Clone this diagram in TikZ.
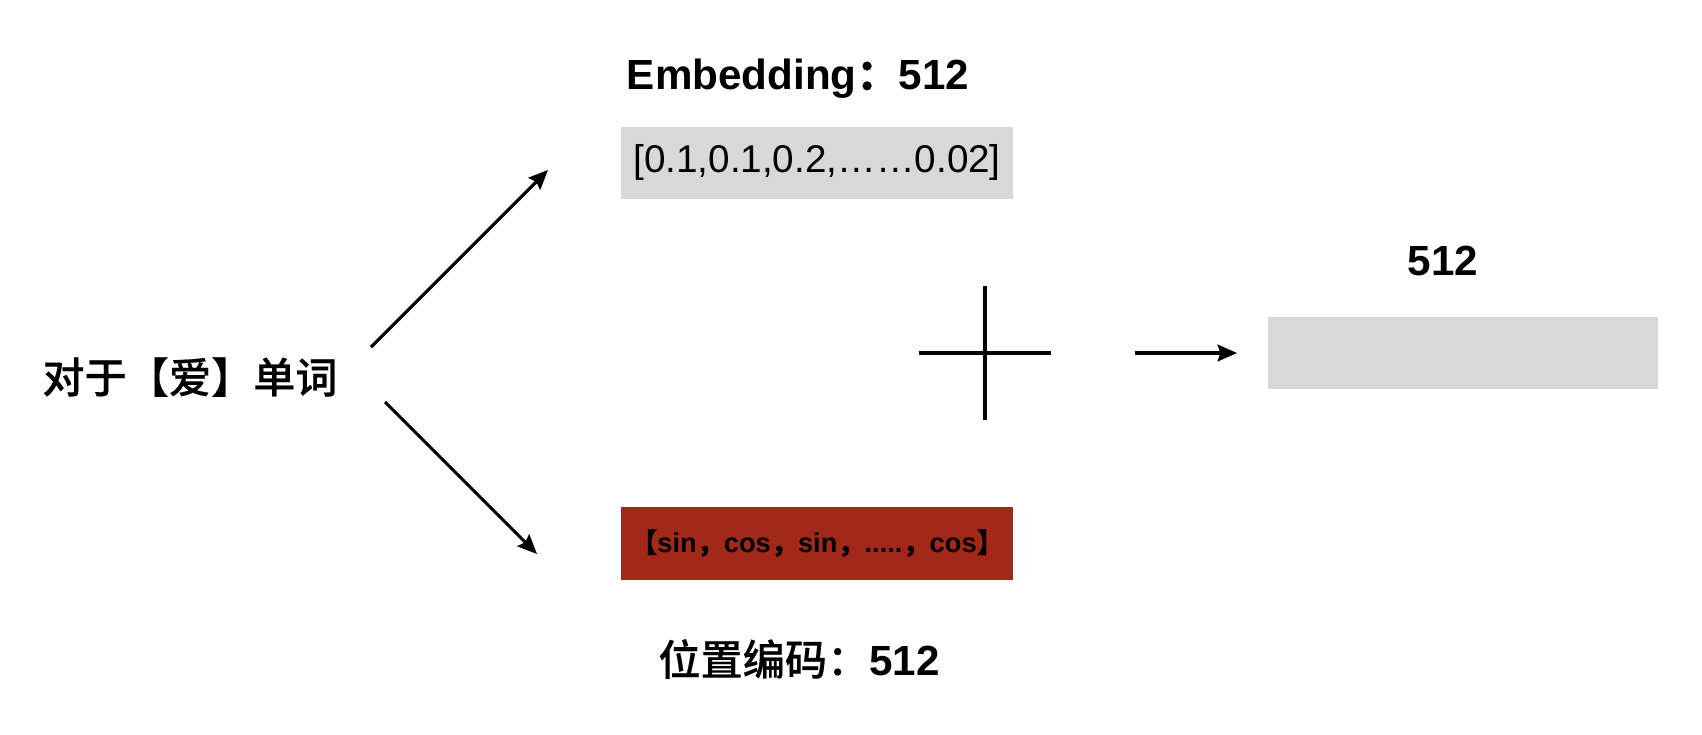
\documentclass[tikz,border=0pt]{standalone}
\usepackage{fontspec}
\setmainfont{Liberation Sans}
\newfontfamily\cjk[FakeBold=0.4]{Noto Sans CJK SC Medium}
\usetikzlibrary{arrows.meta,positioning}
\definecolor{boxgray}{RGB}{216,216,216}
\definecolor{pered}{RGB}{162,40,26}
\tikzset{->, % all connectors are arrows
>={Stealth[length=11pt,width=9.5pt,inset=1.5pt]}, % filled heads
every path/.style={line width=1.8pt}, % the lines are rather heavy
title/.style={font=\fontsize{24}{28}\selectfont\bfseries, inner sep=0pt}, % bold labels
vecbox/.style={minimum width=7.84cm, minimum height=1.46cm, inner sep=0pt}, % the vector bars
}
\begin{document}
\begin{tikzpicture}[x=0.02cm, y=-0.02cm]
\useasboundingbox (0,0) rectangle (1702,734);
\node[title] (word) at (190,377) {\cjk\mdseries 对于【爱】单词};
\node[vecbox, fill=boxgray, font=\fontsize{22}{26}\selectfont] (emb) at (817,163) {[0.1,0.1,0.2,……0.02]};
\node[title] (embt) at (798,79) {Embedding{\cjk ：}512};
\node[vecbox, fill=pered, font=\fontsize{15.5}{18}\selectfont\bfseries] (pe) at (817,543) {{\cjk 【}sin{\cjk ，}cos{\cjk ，}sin{\cjk ，}.....{\cjk ，}cos{\cjk 】}};
\node[title] (pet) at (799,659) {{\cjk\mdseries 位置编码：}512};
\node[vecbox, minimum width=7.82cm, minimum height=1.44cm, fill=boxgray] (out) at (1463,353) {};
\node[title] (outt) at (1443,261) {512};
% the plus sign
\node[minimum width=2.58cm, minimum height=2.6cm, inner sep=0pt] (plus) at (985,353) {};
\draw[-] (plus.west) -- (plus.east);
\draw[-] (plus.north) -- (plus.south);
% arrow ends
\coordinate (up0) at (371,347);
\coordinate (up1) at (548,170);
\coordinate (dn0) at (385,402);
\coordinate (dn1) at (537,554);
\coordinate (sum0) at (1135,353);
\coordinate (sum1) at (1237,353);
\draw (up0) -- (up1);
\draw (dn0) -- (dn1);
\draw (sum0) -- (sum1);
\end{tikzpicture}
\end{document}
